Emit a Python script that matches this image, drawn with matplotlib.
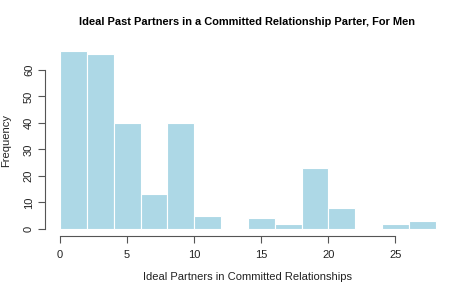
import matplotlib
matplotlib.use("Agg")
import matplotlib.pyplot as plt

# histogram bins (width 2) and counts
bin_edges = [0, 2, 4, 6, 8, 10, 12, 14, 16, 18, 20, 22, 24, 26, 28]
counts = [67, 66, 40, 13, 40, 5, 0, 4, 2, 23, 8, 0, 2, 3]
x_ticks = [0, 5, 10, 15, 20, 25]
y_ticks = [0, 10, 20, 30, 40, 50, 60]

plt.rcParams['font.family'] = ['Liberation Sans', 'DejaVu Sans']

fig = plt.figure(figsize=(4.74, 2.92), dpi=100)
ax = fig.add_axes([0.095, 0.192, 0.856, 0.656])

ax.bar(bin_edges[:-1], counts, width=2, align='edge',
       color='#add8e6', edgecolor='white', linewidth=0.8)

# R-style limits: 4% padding
xr = bin_edges[-1] - bin_edges[0]
ax.set_xlim(bin_edges[0] - 0.04 * xr, bin_edges[-1] + 0.04 * xr)
ax.set_ylim(-0.04 * max(counts), max(counts) * 1.04)

ax.spines['top'].set_visible(False)
ax.spines['right'].set_visible(False)
ax.spines['left'].set_bounds(y_ticks[0], y_ticks[-1])
ax.spines['bottom'].set_bounds(x_ticks[0], x_ticks[-1])
for s in ('left', 'bottom'):
    ax.spines[s].set_color('#555555')
    ax.spines[s].set_linewidth(0.8)

ax.set_xticks(x_ticks)
ax.set_yticks(y_ticks)
ax.set_yticklabels([str(v) for v in y_ticks], rotation=90, va='center')
ax.tick_params(axis='both', direction='out', length=5, width=0.8,
               color='#555555', labelsize=8, labelcolor='#222222', pad=3)
ax.tick_params(axis='x', pad=5)

ax.set_xlabel('Ideal Partners in Committed Relationships', fontsize=8,
              color='#222222', labelpad=9)
ax.set_ylabel('Frequency', fontsize=8, color='#222222')
ax.yaxis.set_label_coords(-0.083, 0.5)
fig.suptitle('Ideal Past Partners in a Committed Relationship Parter, For Men',
             fontsize=7.9, fontweight='bold', x=0.522, y=0.925, va='center')

fig.savefig('out.png', dpi=100)
